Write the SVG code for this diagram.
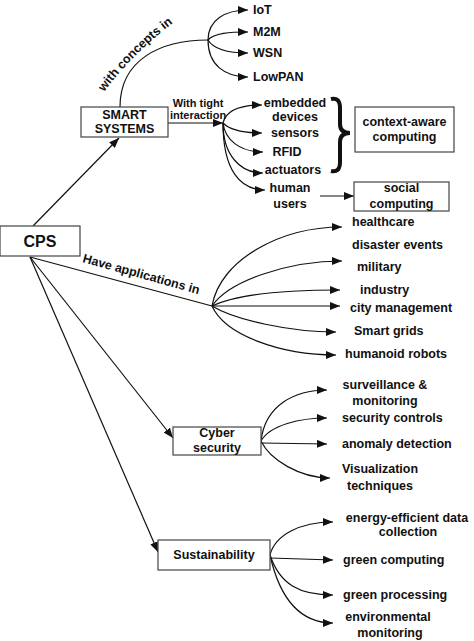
<svg xmlns="http://www.w3.org/2000/svg" width="474" height="641" viewBox="0 0 474 641">
<style>
text{font-family:"Liberation Sans",Arial,sans-serif;font-size:12.5px;font-weight:bold;fill:#111}
.s{font-size:11px}
.c{text-anchor:middle}
.box{fill:#fff;stroke:#444;stroke-width:1.2}
.ln{fill:none;stroke:#111;stroke-width:1.2;marker-end:url(#ah)}
</style>
<defs>
<marker id="ah" viewBox="0 0 10 8" refX="10" refY="4" markerWidth="10" markerHeight="8" markerUnits="userSpaceOnUse" orient="auto">
<path d="M0,0 L10,4 L0,8 Z" fill="#111"/>
</marker>
<path id="tp1" d="M104,92 Q135,50 185,14"/>
</defs>
<rect width="474" height="641" fill="#fff"/>
<g id="connectors">
<path class="ln" d="M208,40 C208,20 225,10 248,10"/>
<path class="ln" d="M208,40 C214,33 230,32 248,32"/>
<path class="ln" d="M208,40 C214,50 230,53 248,53"/>
<path class="ln" d="M208,40 C208,65 225,77 248,77"/>
<path fill="none" stroke="#111" stroke-width="1.2" d="M120,107 C120,60 160,40 208,40"/>
<path class="ln" d="M168,123 L223,123"/>
<path class="ln" d="M223,123 C226,110 240,105 262,105"/>
<path class="ln" d="M223,123 C230,130 245,133 262,133"/>
<path class="ln" d="M223,123 C225,140 240,152 263,152"/>
<path class="ln" d="M223,123 C223,155 240,173 263,173"/>
<path class="ln" d="M223,123 C223,170 240,190 265,190"/>
<path class="ln" d="M320,196 L354,196"/>
<path fill="none" stroke="#111" stroke-width="4" d="M331,99 Q340,97 340,108 L340,124 Q340,133 350,133 Q340,133 340,142 L340,162 Q340,173 331,171"/>
<path class="ln" d="M33,226 L119,138"/>
<path fill="none" stroke="#111" stroke-width="1.2" d="M30,257 L212,306"/>
<path class="ln" d="M212,306 C220,260 280,227 342,227"/>
<path class="ln" d="M212,306 C230,280 290,261 342,261"/>
<path class="ln" d="M212,306 C240,292 300,290 340,290"/>
<path class="ln" d="M212,306 L340,306"/>
<path class="ln" d="M212,306 C235,320 290,332 336,332"/>
<path class="ln" d="M212,306 C225,335 280,355 336,355"/>
<path class="ln" d="M30,257 L173,438"/>
<path class="ln" d="M30,257 L158,552"/>
<path class="ln" d="M261,441 C265,405 295,390 327,390"/>
<path class="ln" d="M261,441 C270,425 300,418 327,418"/>
<path class="ln" d="M261,443 L327,444"/>
<path class="ln" d="M261,441 C270,460 300,478 330,478"/>
<path class="ln" d="M270,555 C275,535 300,522 333,522"/>
<path class="ln" d="M270,558 L333,560"/>
<path class="ln" d="M270,555 C280,585 300,595 333,595"/>
<path class="ln" d="M270,555 C280,600 300,623 333,623"/>
</g>
<g id="label-concepts"><text><textPath href="#tp1">with concepts in</textPath></text></g>
<g id="label-tight"><text class="s c" x="198" y="107">With tight</text><text class="s c" x="198" y="119">interaction</text></g>
<g id="label-apps"><text transform="translate(82,262) rotate(15.5)">Have applications in</text></g>
<g id="iot"><text x="253" y="14">IoT</text></g>
<g id="m2m"><text x="253" y="36">M2M</text></g>
<g id="wsn"><text x="253" y="57">WSN</text></g>
<g id="lowpan"><text x="253" y="81">LowPAN</text></g>
<g id="smart"><rect class="box" x="81" y="107" width="87" height="30"/><text class="c" x="124.5" y="119">SMART</text><text class="c" x="124.5" y="133">SYSTEMS</text></g>
<g id="embedded"><text class="c" x="295" y="107">embedded</text><text class="c" x="295" y="121">devices</text></g>
<g id="sensors"><text class="c" x="295" y="137">sensors</text></g>
<g id="rfid"><text class="c" x="287" y="156">RFID</text></g>
<g id="actuators"><text class="c" x="293" y="174">actuators</text></g>
<g id="human"><text class="c" x="290" y="192">human</text><text class="c" x="290" y="208">users</text></g>
<g id="context"><rect class="box" x="355" y="107" width="99" height="45"/><text class="c" x="404.5" y="126">context-aware</text><text class="c" x="404.5" y="141">computing</text></g>
<g id="social"><rect class="box" x="354" y="182" width="95" height="29"/><text class="c" x="401.5" y="192">social</text><text class="c" x="401.5" y="208">computing</text></g>
<g id="cps"><rect class="box" x="0" y="226" width="80" height="30"/><text class="c" x="40" y="247" style="font-size:16px">CPS</text></g>
<g id="healthcare"><text x="352" y="226">healthcare</text></g>
<g id="disaster"><text x="352" y="249">disaster events</text></g>
<g id="military"><text x="357" y="271">military</text></g>
<g id="industry"><text x="360" y="294">industry</text></g>
<g id="city"><text x="350" y="312">city management</text></g>
<g id="grids"><text x="354" y="335">Smart grids</text></g>
<g id="humanoid"><text x="345" y="358">humanoid robots</text></g>
<g id="cyber"><rect class="box" x="173" y="427" width="88" height="28"/><text class="c" x="217" y="437">Cyber</text><text class="c" x="217" y="452">security</text></g>
<g id="surveillance"><text class="c" x="385" y="389">surveillance &amp;</text><text class="c" x="385" y="405">monitoring</text></g>
<g id="secctl"><text x="342" y="422">security controls</text></g>
<g id="anomaly"><text x="342" y="448">anomaly detection</text></g>
<g id="visual"><text class="c" x="380" y="473">Visualization</text><text class="c" x="380" y="490">techniques</text></g>
<g id="sustain"><rect class="box" x="158" y="540" width="112" height="30"/><text class="c" x="214" y="559">Sustainability</text></g>
<g id="energy"><text class="c" x="407" y="522">energy-efficient data</text><text class="c" x="408" y="536">collection</text></g>
<g id="greencomp"><text x="343" y="564">green computing</text></g>
<g id="greenproc"><text x="343" y="599">green processing</text></g>
<g id="env"><text class="c" x="388" y="621">environmental</text><text class="c" x="390" y="637">monitoring</text></g>
</svg>
